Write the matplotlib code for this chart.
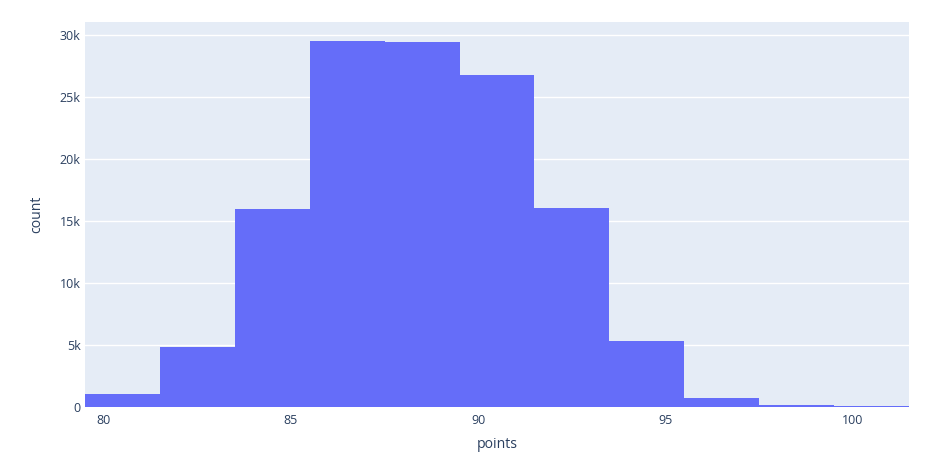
import numpy as np
import matplotlib.pyplot as plt
from matplotlib.ticker import FuncFormatter

# histogram bins (width 2) and counts
bin_edges = [79.5, 81.5, 83.5, 85.5, 87.5, 89.5, 91.5, 93.5, 95.5, 97.5, 99.5, 101.5]
counts = [1020, 4800, 15970, 29520, 29440, 26780, 16040, 5320, 730, 160, 60]

x_ticks = [80, 85, 90, 95, 100]
y_ticks = [0, 5000, 10000, 15000, 20000, 25000, 30000]

plt.rcParams['font.family'] = ['Open Sans', 'DejaVu Sans']
text_color = "#2a3f5f"

fig = plt.figure(figsize=(9.25, 4.66), dpi=100)
ax = fig.add_axes([85 / 925, 59 / 466, 824 / 925, 385 / 466])
ax.set_facecolor("#E5ECF6")

edges = np.array(bin_edges)
ax.bar(edges[:-1], counts, width=np.diff(edges), align="edge",
       color="#656DF9", linewidth=0, zorder=2)

ax.set_xlim(bin_edges[0], bin_edges[-1])
ax.set_ylim(0, 31050)
ax.set_xticks(x_ticks)
ax.set_yticks(y_ticks)
ax.yaxis.set_major_formatter(FuncFormatter(lambda v, p: "0" if v == 0 else f"{int(v / 1000)}k"))

ax.grid(axis="y", color="white", linewidth=1, zorder=1)
ax.set_axisbelow(True)
for s in ax.spines.values():
    s.set_visible(False)
ax.tick_params(length=0, labelsize=9, colors=text_color, pad=5)
ax.tick_params(axis="y", pad=3)

ax.set_xlabel("points", fontsize=10.1, color=text_color, labelpad=7)
ax.set_ylabel("count", fontsize=10.1, color=text_color, labelpad=11)

fig.savefig("out.png", dpi=100)
